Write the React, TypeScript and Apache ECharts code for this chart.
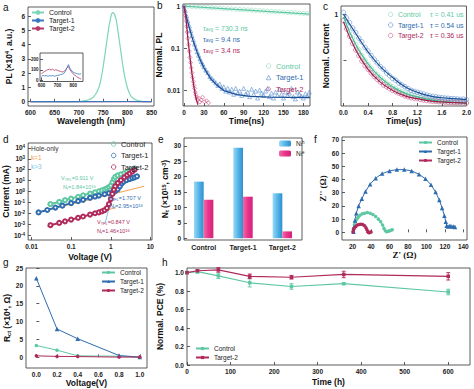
import React, { useEffect, useRef } from 'react';
import * as echarts from 'echarts';

const FONT = '"Liberation Sans", Arial, sans-serif';
const GREEN = '#5ec8a2';
const GREEN_L = '#8fdbbd';
const BLUE = '#2f6cb0';
const BLUE_L = '#5b8fd0';
const RED = '#b02a5c';
const RED_L = '#cc5585';
const ORANGE = '#f4a04a';
const SKY = '#7ec6ea';

// ---------- a: steady-state PL
const plWave = [600, 650, 680, 700, 710, 720, 730, 740, 745, 750, 755, 760, 765, 770, 775, 780, 785, 790, 795, 800, 805, 810, 820, 830, 840, 850];
const plControl = [0, 0, 0.005, 0.02, 0.06, 0.14, 0.32, 0.9, 1.5, 2.45, 3.6, 4.8, 5.8, 6.25, 6.0, 5.1, 3.9, 2.7, 1.7, 1.0, 0.55, 0.3, 0.1, 0.03, 0.01, 0];
const plFlatWave = [600, 700, 800, 850];
const plTarget1 = [0.01, 0.01, 0.015, 0.01];
const plTarget2 = [0.005, 0.008, 0.01, 0.004];
const insetWave = [600, 610, 620, 630, 640, 650, 660, 670, 680, 690, 700, 710, 720, 730, 740, 750, 760, 770, 780, 790, 800, 810, 820, 830, 840, 850];
const insetT1 = [40, 48, 42, 46, 40, 45, 42, 47, 40, 44, 48, 50, 55, 58, 66, 85, 120, 150, 115, 92, 78, 72, 66, 62, 60, 63];
const insetT2 = [60, 78, 85, 95, 102, 106, 98, 108, 95, 102, 96, 90, 86, 80, 84, 96, 118, 132, 100, 80, 62, 50, 38, 28, 20, 12];

// ---------- b: TRPL
const trControl = [[0, 1], [6, 0.99], [12, 0.975], [18, 0.96], [24, 0.95], [30, 0.94], [36, 0.925], [42, 0.915], [48, 0.9], [54, 0.89], [60, 0.875], [66, 0.865], [72, 0.855], [78, 0.84], [84, 0.83], [90, 0.82], [96, 0.81], [102, 0.8], [108, 0.79], [114, 0.78], [120, 0.77], [126, 0.76], [132, 0.75], [138, 0.74], [144, 0.73], [150, 0.72], [156, 0.71], [162, 0.7], [168, 0.69], [174, 0.68], [180, 0.67], [186, 0.66]];
const trControlFit = [[0, 1], [190, 0.645]];
const trT1 = [[0, 1], [2, 0.78], [4, 0.58], [6, 0.44], [8, 0.34], [10, 0.26], [12, 0.2], [14, 0.16], [16, 0.125], [18, 0.1], [20, 0.082], [22, 0.068], [24, 0.056], [26, 0.048], [28, 0.042], [30, 0.036], [33, 0.03], [36, 0.026], [39, 0.021], [42, 0.019], [45, 0.017], [48, 0.015], [51, 0.013], [54, 0.014], [57, 0.011], [60, 0.012], [63, 0.0095], [66, 0.011], [69, 0.009], [72, 0.0105], [75, 0.008], [78, 0.011], [81, 0.0085], [84, 0.0095], [87, 0.0075], [90, 0.011], [93, 0.008], [96, 0.009], [99, 0.007], [102, 0.0105], [105, 0.008], [108, 0.0095], [111, 0.0065], [114, 0.01], [117, 0.0085], [120, 0.0075], [123, 0.0095], [126, 0.011], [129, 0.007], [132, 0.0085], [135, 0.0065], [138, 0.009], [141, 0.0075], [144, 0.0105], [147, 0.008], [150, 0.0065], [153, 0.009], [156, 0.0075], [159, 0.0085], [162, 0.011], [165, 0.007], [168, 0.0062], [171, 0.009], [174, 0.008], [177, 0.0072], [180, 0.0065], [183, 0.0082], [186, 0.0072], [189, 0.009]];
const trT1Fit = [[0, 1], [3, 0.62], [6, 0.4], [9, 0.27], [12, 0.185], [15, 0.13], [20, 0.078], [25, 0.05], [30, 0.034], [40, 0.019], [50, 0.013], [60, 0.0098], [80, 0.0078], [100, 0.0071], [130, 0.0068], [160, 0.0067], [190, 0.0067]];
const trT2 = [[0, 1], [1, 0.78], [2, 0.6], [3, 0.45], [4, 0.33], [5, 0.24], [6, 0.17], [7, 0.12], [8, 0.085], [9, 0.06], [10, 0.045], [11, 0.034], [12, 0.026], [13, 0.02], [14, 0.016], [15, 0.013], [16, 0.011], [17, 0.009], [18, 0.0078], [19, 0.0068], [20, 0.006], [22, 0.0065], [24, 0.0052], [26, 0.0058], [28, 0.0068], [31, 0.0053], [34, 0.0056], [37, 0.005]];
const trT2Fit = [[0, 1], [3, 0.5], [6, 0.16], [9, 0.06], [12, 0.025], [15, 0.012], [18, 0.0065], [21, 0.0045]];

// ---------- c: TPC
const tC = [0, 0.05, 0.1, 0.15, 0.2, 0.25, 0.3, 0.35, 0.4, 0.45, 0.5, 0.55, 0.6, 0.65, 0.7, 0.75, 0.8, 0.85, 0.9, 0.95, 1.0, 1.05, 1.1, 1.15, 1.2, 1.25, 1.3, 1.35, 1.4, 1.45, 1.5, 1.55, 1.6, 1.65, 1.7, 1.75, 1.8, 1.85, 1.9, 1.95, 2.0];
const cControl = [0.98, 0.89, 0.81, 0.74, 0.67, 0.61, 0.55, 0.5, 0.45, 0.41, 0.37, 0.34, 0.31, 0.28, 0.25, 0.23, 0.21, 0.19, 0.17, 0.155, 0.14, 0.13, 0.12, 0.11, 0.1, 0.09, 0.085, 0.08, 0.07, 0.065, 0.06, 0.055, 0.05, 0.05, 0.045, 0.045, 0.04, 0.04, 0.04, 0.035, 0.035];
const cT1 = [1.02, 0.96, 0.91, 0.85, 0.8, 0.74, 0.7, 0.64, 0.6, 0.55, 0.51, 0.47, 0.43, 0.4, 0.36, 0.33, 0.3, 0.28, 0.25, 0.23, 0.21, 0.19, 0.17, 0.16, 0.15, 0.14, 0.13, 0.12, 0.11, 0.105, 0.1, 0.095, 0.09, 0.087, 0.085, 0.08, 0.08, 0.076, 0.072, 0.075, 0.07];
const cT2 = [0.93, 0.84, 0.76, 0.68, 0.61, 0.55, 0.49, 0.44, 0.4, 0.36, 0.32, 0.29, 0.26, 0.23, 0.21, 0.19, 0.17, 0.155, 0.14, 0.125, 0.11, 0.1, 0.09, 0.085, 0.08, 0.072, 0.066, 0.06, 0.056, 0.052, 0.05, 0.047, 0.045, 0.042, 0.04, 0.04, 0.037, 0.036, 0.035, 0.033, 0.032];
const fitT = [0, 0.2, 0.4, 0.6, 0.8, 1.0, 1.2, 1.4, 1.6, 1.8, 2.0];
const fitControl = [0.97, 0.67, 0.46, 0.31, 0.21, 0.14, 0.1, 0.07, 0.05, 0.04, 0.035];
const fitT1 = [1.0, 0.79, 0.59, 0.43, 0.31, 0.21, 0.15, 0.11, 0.09, 0.08, 0.07];
const fitT2 = [0.92, 0.61, 0.4, 0.26, 0.17, 0.11, 0.08, 0.056, 0.045, 0.037, 0.032];

// ---------- d: SCLC
const dControl = [[0.03, 0.07], [0.05, 0.11], [0.07, 0.16], [0.1, 0.22], [0.15, 0.33], [0.2, 0.45], [0.3, 0.65], [0.4, 0.85], [0.5, 1.05], [0.6, 1.3], [0.7, 1.6], [0.8, 2.0], [0.9, 2.6], [1.0, 3.5], [1.1, 7], [1.2, 14], [1.3, 22], [1.5, 30], [1.8, 38], [2.2, 50], [2.6, 65], [3.0, 82], [3.5, 105], [4.0, 135]];
const dT1 = [[0.015, 0.012], [0.025, 0.02], [0.04, 0.033], [0.06, 0.05], [0.1, 0.085], [0.15, 0.13], [0.2, 0.17], [0.3, 0.26], [0.4, 0.34], [0.5, 0.42], [0.7, 0.56], [0.9, 0.7], [1.1, 0.85], [1.3, 1.1], [1.5, 1.6], [1.7, 3], [1.9, 5.5], [2.1, 8], [2.5, 11], [3.0, 14], [3.5, 17], [4.0, 20], [4.6, 25]];
const dT2 = [[0.03, 0.0008], [0.05, 0.0013], [0.07, 0.0018], [0.1, 0.0026], [0.15, 0.0038], [0.2, 0.005], [0.3, 0.0075], [0.4, 0.01], [0.5, 0.012], [0.6, 0.015], [0.7, 0.019], [0.8, 0.03], [0.9, 0.07], [1.0, 0.2], [1.1, 0.6], [1.2, 1.5], [1.3, 3], [1.5, 6], [1.8, 11], [2.2, 20], [2.6, 32], [3.0, 45], [3.5, 70], [4.0, 100]];
const k1Control = [[0.025, 0.06], [1.5, 3.4]];
const k1T1 = [[0.013, 0.011], [7, 3]];
const k1T2 = [[0.025, 0.0006], [1.3, 0.032]];
const k3Control = [[0.8, 1.6], [1.25, 25]];
const k3T1 = [[1.3, 0.5], [2.1, 12]];
const k3T2 = [[0.72, 0.0012], [1.15, 0.9]];

// ---------- e: trap density
const eCats = ['Control', 'Target-1', 'Target-2'];
const eNh = [18.4, 29.4, 14.6];
const eNe = [12.5, 13.5, 2.2];

// ---------- f: Nyquist
const fControlX = [20.5, 21, 22, 23, 24.5, 26, 28, 30.5, 33, 36, 39, 42, 45, 48, 50.5, 52.5, 54, 55.5, 57, 58.5, 60, 61.5, 63];
const fControlY = [0.5, 3, 6, 8, 10, 11.5, 13, 14, 14.5, 15, 14.5, 13.5, 12, 10, 8, 5.5, 3, 1.2, 0.5, 0.8, 1.2, 1.6, 2];
const fT1X = [21, 21.5, 22.5, 24, 26.5, 30, 34, 39, 45, 52, 60, 68, 76, 84, 92, 99, 105, 110, 114, 117, 119.5, 121, 122, 123.5, 125.5, 127.5, 129.5, 131];
const fT1Y = [0.5, 4, 9, 14.5, 20, 25.5, 31, 36.5, 41, 44.5, 46.5, 47.5, 47.5, 46.5, 44, 40.5, 36, 30.5, 24.5, 18.5, 12.5, 8, 5, 4.5, 5, 4.5, 4.5, 4];
const fT2X = [20.5, 21, 22, 23.5, 25, 27, 29, 31, 33, 34.5, 35.5, 36.5, 37, 38, 39, 40];
const fT2Y = [0.5, 2, 3.5, 4.5, 5.5, 6, 6.2, 6, 5, 3.5, 2, 0.5, 0, -0.3, 0, 0.2];

// ---------- g: Rct vs voltage
const gV = [0, 0.2, 0.4, 0.8, 1.0];
const gControl = [3.3, 2.0, 0.4, 0.3, 0.05];
const gT1 = [22.1, 7.9, 5.2, 0.5, 0.05];
const gT2 = [0.4, 0.25, 0.2, 0.05, 0.05];

// ---------- h: stability
const hT = [0, 24, 72, 144, 240, 360, 600];
const hControl = [1.0, 1.01, 0.965, 0.89, 0.85, 0.88, 0.79];
const hControlErr = [0.01, 0.015, 0.03, 0.045, 0.03, 0.01, 0.03];
const hT2 = [1.0, 1.02, 1.03, 0.96, 0.95, 0.98, 0.96];
const hT2Err = [0.01, 0.01, 0.025, 0.025, 0.02, 0.035, 0.04];

const pairs = (xs: number[], ys: number[]) => xs.map((x, i) => [x, ys[i]]);

const labelBase = { fontSize: 6.5, fontWeight: 'bold', fontFamily: FONT, color: '#222', margin: 3 };
const subRich = {
  sub: { fontSize: 5.5, fontWeight: 'bold', fontFamily: FONT, verticalAlign: 'bottom', color: '#111' },
  sup: { fontSize: 5.5, fontWeight: 'bold', fontFamily: FONT, verticalAlign: 'top', color: '#111' },
};
const nameStyle = { fontSize: 8.5, fontWeight: 'bold', fontFamily: FONT, color: '#111', rich: subRich };

function axis(kind: string, gridIndex: number, min: number, max: number, ticks: number[], name: string, nameGap: number, opts: any = {}) {
  return {
    type: kind,
    gridIndex,
    min,
    max,
    name,
    nameGap,
    nameLocation: 'middle',
    nameTextStyle: { ...nameStyle, ...(opts.nameStyle || {}) },
    axisLine: { show: false },
    splitLine: { show: false },
    axisTick: { show: true, inside: true, length: 3, lineStyle: { color: '#333', width: 0.8 }, customValues: opts.tickValues || ticks },
    axisLabel: { ...labelBase, customValues: ticks, ...(opts.label || {}) },
  };
}

function buildOption() {
  const gridBase = { show: true, borderColor: '#333', borderWidth: 0.8, backgroundColor: 'transparent' };
  const grid = [
    { left: 28, top: 7, width: 126, height: 99 },
    { left: 40, top: 53, width: 43, height: 28.5, backgroundColor: '#fff' },
    { left: 183, top: 4, width: 127, height: 102 },
    { left: 341, top: 6, width: 128, height: 100 },
    { left: 28, top: 143, width: 124, height: 97 },
    { left: 184, top: 138, width: 118, height: 102 },
    { left: 342, top: 137, width: 125, height: 103 },
    { left: 26, top: 268, width: 121, height: 100 },
    { left: 187, top: 268, width: 283, height: 97 },
  ].map((g) => ({ ...gridBase, ...g }));

  const fix1 = (v: number) => v.toFixed(1);
  const plain = (v: number) => `${+Number(v).toPrecision(3)}`;
  const smallLabel = { fontSize: 4.5, margin: 1.5 };

  const xAxis = [
    axis('value', 0, 595, 855, [600, 650, 700, 750, 800, 850], 'Wavelength (nm)', 7.5),
    axis('value', 1, 590, 862, [600, 700, 800], '', 0, { label: smallLabel }),
    axis('value', 2, -1.5, 190, [0, 30, 60, 90, 120, 150, 180], 'Time(ns)', 6.5),
    axis('value', 3, -0.04, 2.0, [0, 0.4, 0.8, 1.2, 1.6, 2.0], 'Time(us)', 8, { label: { formatter: fix1 } }),
    axis('log', 4, 0.0082, 11, [0.01, 0.1, 1, 10], 'Voltage (V)', 12, { label: { formatter: plain } }),
    {
      type: 'category', gridIndex: 5, data: eCats,
      axisLine: { show: false }, axisTick: { show: false }, splitLine: { show: false },
      axisLabel: { ...labelBase, fontSize: 7, margin: 4 },
    },
    axis('value', 6, 8.5, 144, [20, 40, 60, 80, 100, 120, 140], "Z' (Ω)", 8, { nameStyle: { fontFamily: '"Liberation Serif", serif', fontSize: 9 } }),
    axis('value', 7, -0.1, 1.07, [0, 0.2, 0.4, 0.6, 0.8, 1.0], 'Voltage(V)', 10, { label: { formatter: fix1 } }),
    axis('value', 8, 0, 650, [0, 100, 200, 300, 400, 500, 600], 'Time (h)', 12),
  ];

  const yAxis = [
    axis('value', 0, -0.3, 6.65, [0, 1, 2, 3, 4, 5, 6], 'PL (×10{sup|4}, a.u.)', 15),
    axis('value', 1, -10, 260, [0, 100, 200], '', 0, { label: smallLabel }),
    axis('log', 2, 0.0042, 1.12, [0.01, 0.1, 1], 'Normal. PL', 12, { label: { formatter: plain } }),
    axis('value', 3, 0, 1.09, [1], 'Normal. Current', 6, { tickValues: [0.5, 1] }),
    axis('log', 4, 3.47e-5, 28800, [1e-4, 1e-3, 1e-2, 1e-1, 1, 10, 100, 1e3, 1e4], 'Current (mA)', 17, {
      label: {
        formatter: (v: number) => `10{s|${Math.round(Math.log10(v))}}`,
        rich: { s: { fontSize: 4.5, fontWeight: 'bold', fontFamily: FONT, verticalAlign: 'top', color: '#222' } },
      },
    }),
    axis('value', 5, -0.6, 32.6, [0, 5, 10, 15, 20, 25, 30], 'N{sub|t} (×10{sup|15}, cm{sup|-3})', 9.5),
    axis('value', 6, -5.8, 72.2, [0, 10, 20, 30, 40, 50, 60, 70], "Z'' (Ω)", 13, { nameStyle: { fontFamily: '"Liberation Serif", serif', fontSize: 9 } }),
    axis('value', 7, -3, 25, [0, 5, 10, 15, 20, 25], 'R{sub|ct} (×10{sup|4}, Ω)', 14),
    axis('value', 8, 0, 1.05, [0, 0.2, 0.4, 0.6, 0.8, 1.0], 'Normal. PCE (%)', 12.5, { label: { formatter: fix1 } }),
  ];

  const ax = (i: number) => ({ xAxisIndex: i, yAxisIndex: i });
  const lineS = (i: number, name: string, data: any[], color: string, width = 1, extra: any = {}) => ({
    type: 'line', name, data, ...ax(i), symbol: 'none', smooth: false,
    lineStyle: { color, width }, itemStyle: { color }, ...extra,
  });
  const hollow = (i: number, name: string, data: any[], color: string, symbol: string, size: number) => ({
    type: 'scatter', name, data, ...ax(i), symbol, symbolSize: size,
    itemStyle: { color: 'rgba(255,255,255,0)', borderColor: color, borderWidth: 0.8 },
  });
  const errBars = (xs: number[], ys: number[], es: number[], color: string) => ({
    type: 'custom', ...ax(8), name: 'h|err',
    data: xs.map((x, i) => [x, ys[i] - es[i], ys[i] + es[i]]),
    encode: { x: 0, y: [1, 2] },
    renderItem: (params: any, api: any) => {
      const p1 = api.coord([api.value(0), api.value(1)]);
      const p2 = api.coord([api.value(0), api.value(2)]);
      const st = { stroke: color, lineWidth: 0.9 };
      return {
        type: 'group',
        children: [
          { type: 'line', shape: { x1: p1[0], y1: p1[1], x2: p2[0], y2: p2[1] }, style: st },
          { type: 'line', shape: { x1: p1[0] - 2, y1: p1[1], x2: p1[0] + 2, y2: p1[1] }, style: st },
          { type: 'line', shape: { x1: p2[0] - 2, y1: p2[1], x2: p2[0] + 2, y2: p2[1] }, style: st },
        ],
      };
    },
  });

  const barBlue = new echarts.graphic.LinearGradient(0, 0, 1, 0, [
    { offset: 0, color: '#9ad8f6' }, { offset: 0.5, color: '#55b5e8' }, { offset: 1, color: '#2e8fcc' },
  ]);
  const barPink = new echarts.graphic.LinearGradient(0, 0, 1, 0, [
    { offset: 0, color: '#f06aa8' }, { offset: 0.5, color: '#e83489' }, { offset: 1, color: '#d6207a' },
  ]);

  const series: any[] = [
    // a
    lineS(0, 'a|Control', pairs(plWave, plControl), '#7dd6b8', 1.2, { smooth: true }),
    lineS(0, 'a|Target-2', pairs(plFlatWave, plTarget2), '#b83a6a', 1.2),
    lineS(0, 'a|Target-1', pairs(plFlatWave, plTarget1), '#3a78c0', 1.2),
    lineS(1, 'ai|Target-2', pairs(insetWave, insetT2), '#b83a6a', 0.8),
    lineS(1, 'ai|Target-1', pairs(insetWave, insetT1), '#3a78c0', 0.8),
    // b
    hollow(2, 'b|Control', trControl, GREEN_L, 'circle', 4),
    lineS(2, 'b|fitC', trControlFit, GREEN, 1.2),
    hollow(2, 'b|Target-1', trT1, BLUE_L, 'triangle', 4),
    lineS(2, 'b|fit1', trT1Fit, '#1d4f98', 1.3),
    hollow(2, 'b|Target-2', trT2, RED_L, 'diamond', 4),
    lineS(2, 'b|fit2', trT2Fit, '#a01f50', 1.3),
    // c
    hollow(3, 'c|Control', pairs(tC, cControl), GREEN_L, 'circle', 4.5),
    hollow(3, 'c|Target-2', pairs(tC, cT2), RED_L, 'circle', 4.5),
    hollow(3, 'c|Target-1', pairs(tC, cT1), BLUE_L, 'circle', 4.5),
    lineS(3, 'c|fitC', pairs(fitT, fitControl), '#3fbf90', 1.2, { smooth: true }),
    lineS(3, 'c|fit2', pairs(fitT, fitT2), '#9c1f50', 1.2, { smooth: true }),
    lineS(3, 'c|fit1', pairs(fitT, fitT1), '#1d4f98', 1.2, { smooth: true }),
    // d
    lineS(4, 'd|k1a', k1Control, ORANGE, 1),
    lineS(4, 'd|k1b', k1T1, ORANGE, 1),
    lineS(4, 'd|k1c', k1T2, ORANGE, 1),
    lineS(4, 'd|k3a', k3Control, SKY, 1),
    lineS(4, 'd|k3b', k3T1, SKY, 1),
    lineS(4, 'd|k3c', k3T2, SKY, 1),
    lineS(4, 'd|Control', dControl, GREEN, 2, { symbol: 'emptyCircle', symbolSize: 4, showSymbol: true, itemStyle: { color: GREEN, borderWidth: 0.8 } }),
    lineS(4, 'd|Target-1', dT1, BLUE, 2, { symbol: 'emptyCircle', symbolSize: 4, showSymbol: true, itemStyle: { color: BLUE, borderWidth: 0.8 } }),
    lineS(4, 'd|Target-2', dT2, RED, 2, { symbol: 'emptyCircle', symbolSize: 4, showSymbol: true, itemStyle: { color: RED, borderWidth: 0.8 } }),
    // e
    { type: 'bar', name: 'e|Nh', ...ax(5), data: eNh, barWidth: 9.7, barGap: '0%', itemStyle: { color: barBlue } },
    { type: 'bar', name: 'e|Ne', ...ax(5), data: eNe, barWidth: 9.7, barGap: '0%', itemStyle: { color: barPink } },
    // f
    lineS(6, 'f|Control', pairs(fControlX, fControlY), GREEN, 1, { symbol: 'circle', symbolSize: 3.5, showSymbol: true }),
    lineS(6, 'f|Target-1', pairs(fT1X, fT1Y), BLUE, 1, { symbol: 'triangle', symbolSize: 4.5, showSymbol: true }),
    lineS(6, 'f|Target-2', pairs(fT2X, fT2Y), RED, 1, { symbol: 'circle', symbolSize: 3.5, showSymbol: true }),
    // g
    lineS(7, 'g|Control', pairs(gV, gControl), GREEN, 1, { symbol: 'circle', symbolSize: 3.5, showSymbol: true }),
    lineS(7, 'g|Target-1', pairs(gV, gT1), BLUE, 1, { symbol: 'triangle', symbolSize: 4.5, showSymbol: true }),
    lineS(7, 'g|Target-2', pairs(gV, gT2), RED, 1, { symbol: 'circle', symbolSize: 3.5, showSymbol: true }),
    // h
    errBars(hT, hControl, hControlErr, GREEN),
    errBars(hT, hT2, hT2Err, RED),
    lineS(8, 'h|Control', pairs(hT, hControl), GREEN, 1.2, { symbol: 'rect', symbolSize: 3.5, showSymbol: true }),
    lineS(8, 'h|Target-2', pairs(hT, hT2), RED, 1.2, { symbol: 'rect', symbolSize: 3.5, showSymbol: true }),
  ];

  const legendText = { fontSize: 7, fontFamily: FONT, color: '#222' };
  const strip = (name: string) => name.split('|')[1];
  const leg = (extra: any) => ({
    orient: 'vertical', padding: 0, itemGap: 1, itemWidth: 12, itemHeight: 6, selectedMode: false,
    textStyle: legendText, formatter: strip, ...extra,
  });
  const cLegendText: Record<string, string> = {
    'c|Control': '{n|Control}τ = 0.41 us',
    'c|Target-1': '{n|Target-1}τ = 0.54 us',
    'c|Target-2': '{n|Target-2}τ = 0.36 us',
  };
  const ring = (color: string) => ({ color: 'rgba(255,255,255,0)', borderColor: color, borderWidth: 0.8 });

  const legend = [
    leg({ left: 31, top: 9, data: ['a|Control', 'a|Target-1', 'a|Target-2'] }),
    leg({
      left: 266, top: 62, itemWidth: 4.5, itemHeight: 4.5, itemGap: 3.5,
      textStyle: { ...legendText, fontSize: 7.5 },
      data: [
        { name: 'b|Control', textStyle: { color: '#5ec8a2' }, itemStyle: ring(GREEN_L) },
        { name: 'b|Target-1', textStyle: { color: BLUE }, itemStyle: ring(BLUE_L) },
        { name: 'b|Target-2', textStyle: { color: RED }, itemStyle: ring(RED_L) },
      ],
    }),
    leg({
      left: 388, top: 11, itemWidth: 4.5, itemHeight: 4.5, itemGap: 3.5,
      textStyle: { ...legendText, fontSize: 7, rich: { n: { width: 32, fontSize: 7, fontFamily: FONT } } },
      formatter: (name: string) => cLegendText[name],
      data: [
        { name: 'c|Control', textStyle: { color: '#5ec8a2' }, itemStyle: ring(GREEN_L) },
        { name: 'c|Target-1', textStyle: { color: BLUE }, itemStyle: ring(BLUE_L) },
        { name: 'c|Target-2', textStyle: { color: RED }, itemStyle: ring(RED_L) },
      ],
    }),
    leg({
      left: 111, top: 140, itemWidth: 4.5, itemHeight: 4.5, itemGap: 3.5, textStyle: { ...legendText, fontSize: 7.5 },
      data: [
        { name: 'd|Control', icon: 'circle', itemStyle: ring(GREEN) },
        { name: 'd|Target-1', icon: 'circle', itemStyle: ring(BLUE) },
        { name: 'd|Target-2', icon: 'circle', itemStyle: ring(RED) },
      ],
    }),
    leg({
      left: 279, top: 140, itemWidth: 12, itemHeight: 6, itemGap: 3,
      textStyle: { ...legendText, fontSize: 6.5, rich: { s: { fontSize: 4.5, verticalAlign: 'bottom' }, p: { fontSize: 4.5, verticalAlign: 'top' } } },
      formatter: (name: string) => (name === 'e|Nh' ? 'N{s|t}{p|h}' : 'N{s|t}{p|e}'),
      data: ['e|Nh', 'e|Ne'],
    }),
    leg({ left: 418, top: 139, itemWidth: 13, itemHeight: 4, itemGap: 2, textStyle: { ...legendText, fontSize: 6.5 }, data: ['f|Control', 'f|Target-1', 'f|Target-2'] }),
    leg({ left: 101, top: 269, itemWidth: 13, itemHeight: 4, itemGap: 2, textStyle: { ...legendText, fontSize: 6.5 }, data: ['g|Control', 'g|Target-1', 'g|Target-2'] }),
    leg({ left: 195, top: 345, itemWidth: 13, itemHeight: 4, itemGap: 2, textStyle: { ...legendText, fontSize: 6.5 }, data: ['h|Control', 'h|Target-2'] }),
  ];

  const txt = (x: number, y: number, text: string, size: number, fill: string, weight = 'normal', rich?: any) => ({
    type: 'text', x, y, z: 100,
    style: { text, fontSize: size, fontFamily: FONT, fill, fontWeight: weight, verticalAlign: 'middle', align: 'left', rich },
  });
  const tauRich = { s: { fontSize: 4.5, verticalAlign: 'bottom' } };
  const dRich = { s: { fontSize: 4, verticalAlign: 'bottom' }, p: { fontSize: 4, verticalAlign: 'top' } };

  const graphic = [
    txt(3, 7, 'a', 10, '#111'),
    txt(157, 5, 'b', 10, '#111'),
    txt(323, 6, 'c', 10, '#111'),
    txt(3, 139, 'd', 10, '#111'),
    txt(158, 139, 'e', 10, '#111'),
    txt(314, 139, 'f', 10, '#111'),
    txt(3, 262, 'g', 10, '#111'),
    txt(162, 262, 'h', 10, '#111'),
    txt(203, 28, 'τ{s|avg} = 730.3 ns', 7, '#5ec8a2', 'normal', tauRich),
    txt(203, 39, 'τ{s|avg} = 9.4 ns', 7, BLUE, 'normal', tauRich),
    txt(203, 50.5, 'τ{s|avg} = 3.4 ns', 7, RED, 'normal', tauRich),
    txt(31, 148, 'Hole-only', 6.5, '#333'),
    txt(31, 157, 'k=1', 6.5, ORANGE),
    txt(31, 166, 'k>3', 6.5, SKY),
    txt(61, 178, 'V{s|TFL}=0.911 V', 5.5, GREEN, 'normal', dRich),
    txt(63, 187, 'N{s|t}=1.84×10{p|16}', 5.5, GREEN, 'normal', dRich),
    txt(108, 198, 'V{s|TFL}=1.707 V', 5.5, BLUE, 'normal', dRich),
    txt(110, 206, 'N{s|t}=2.95×10{p|16}', 5.5, BLUE, 'normal', dRich),
    txt(97, 222, 'V{s|TFL}=0.847 V', 5.5, RED, 'normal', dRich),
    txt(97, 231, 'N{s|t}=1.46×10{p|16}', 5.5, RED, 'normal', dRich),
  ];

  return { animation: false, backgroundColor: '#fff', grid, xAxis, yAxis, series, legend, graphic };
}

export default function App() {
  const ref = useRef<HTMLDivElement>(null);
  useEffect(() => {
    if (!ref.current) return;
    const chart = echarts.init(ref.current, undefined, { renderer: 'svg' });
    chart.setOption(buildOption() as any);
    return () => chart.dispose();
  }, []);
  return <div ref={ref} style={{ position: 'absolute', left: 0, top: 0, width: 474, height: 389, background: '#fff' }} />;
}
